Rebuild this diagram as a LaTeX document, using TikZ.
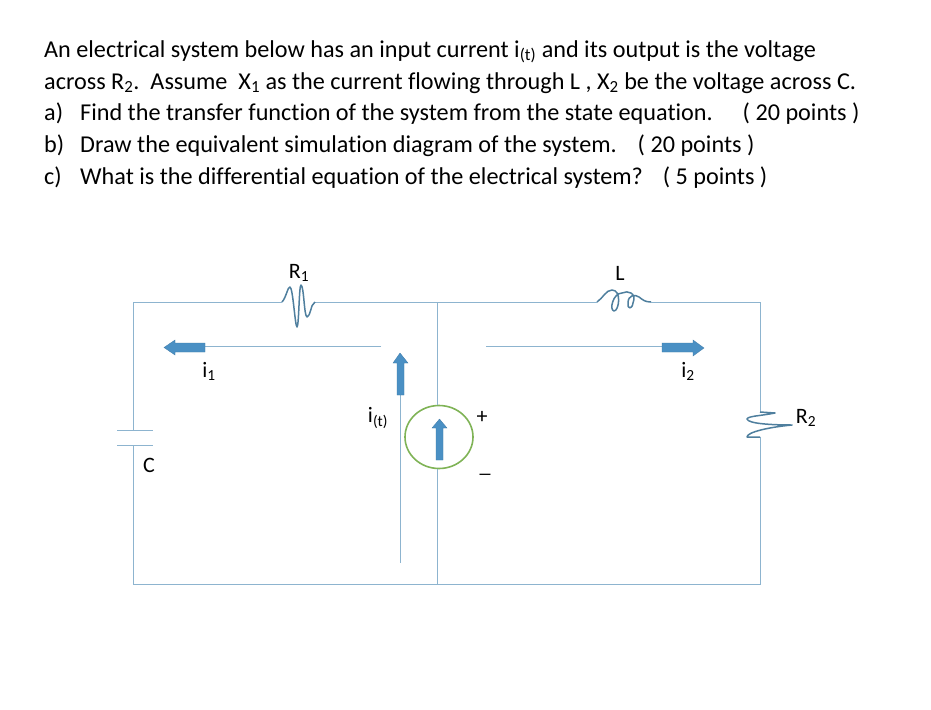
\documentclass[tikz,border=0pt]{standalone}
\usepackage{fontspec}
\setmainfont{Carlito}
\usetikzlibrary{shapes.geometric}
\definecolor{wire}{HTML}{8DB4CF}
\definecolor{blk}{HTML}{4A90C4}
\definecolor{sq}{HTML}{4F7F9E}
\definecolor{grn}{HTML}{7FB356}
\tikzset{
  wireline/.style={draw=wire,line width=1pt},
  squiggle/.style={draw=sq,line width=1.5pt,line join=round},
  bigarrow/.style={draw=blk!85!black,line width=0.3pt,fill=blk},
  body/.style={anchor=base west,inner sep=0pt,font=\fontsize{24.2pt}{28pt}\selectfont},
  lab/.style={inner sep=0pt,font=\fontsize{22pt}{26pt}\selectfont},
}
\newcommand{\lsub}[1]{\textsubscript{#1}}
\newcommand{\tag}[1]{\makebox[36pt][l]{#1}}
\newcommand{\nl}{\kern0pt }
\begin{document}
\begin{tikzpicture}[x=1pt,y=-1pt]
\useasboundingbox (0,0) rectangle (931,709);
\fill[white] (0,0) rectangle (931,709);
% text
\node[body] (t1) at (44,57) {An electrical system below has an input current i\lsub{(t)} and its output is the voltage};
\node[body] (t2) at (44,89) {across R\lsub{2}.\ \ Assume\ \ X\lsub{1} as the current f\nl lowing through L ,\ X\lsub{2} be the voltage across C.};
\node[body] (t3) at (44,120.500) {\tag{a)}Find the transfer funct\nl ion of the system from the state equat\nl ion.\hspace{30pt}( 20 points )};
\node[body] (t4) at (44,152.500) {\tag{b)}Draw the equivalent simulat\nl ion diagram of the system.\hspace{21pt}( 20 points )};
\node[body] (t5) at (44,184.500) {\tag{c)}What is the dif\nl ferent\nl ial equat\nl ion of the electrical system?\hspace{20pt}( 5 points )};
% corners and junctions
\coordinate (tl) at (133,302);
\coordinate (tr) at (760,302);
\coordinate (bl) at (133,584);
\coordinate (br) at (760,584);
\coordinate (tm) at (437,302);
\coordinate (bm) at (437,584);
\coordinate (r1a) at (282,302);
\coordinate (r1b) at (315,302);
\coordinate (la) at (597,302);
\coordinate (lb) at (651,302);
\coordinate (r2a) at (760,412);
\coordinate (r2b) at (760,437);
\coordinate (c1) at (133,430);
\coordinate (c2) at (133,445);
\node[draw=grn,line width=1.6pt,ellipse,minimum width=68pt,minimum height=63pt,inner sep=0pt] (src) at (439,437) {};
% wires
\draw[wireline] (r1a) -- (tl) -- (c1);
\draw[wireline] (c2) -- (bl) -- (br) -- (r2b);
\draw[wireline] (r2a) -- (tr) -- (lb);
\draw[wireline] (la) -- (r1b);
\draw[wireline] (tm) -- (tm |- src.north);
\draw[wireline] (bm |- src.south) -- (bm);
\draw[wireline] (117,430) -- (153,430);
\draw[wireline] (117,445) -- (153,445);
% current reference lines
\draw[wireline] (381,346) -- (205,346);
\draw[wireline] (486,346) -- (662,346);
\draw[wireline] (400,395) -- (400,563);
% components
\draw[squiggle] (r1a) .. controls (286,298) and (288,286) .. (290,287) .. controls (293,288) and (295,326) .. (297,327) .. controls (299,326) and (299,285) .. (301,285) .. controls (304,286) and (304,316) .. (307,317) .. controls (311,316) and (310,305) .. (r1b);
\draw[squiggle] (la) .. controls (603,298) and (606,290) .. (612,290) .. controls (622,290) and (619,311) .. (614,311) .. controls (609,310) and (613,293) .. (622,293) .. controls (628,290) and (637,293) .. (633,303) .. controls (632,310) and (627,309) .. (628,303) .. controls (628,295) and (635,294) .. (639,297) .. controls (643,300) and (645,302) .. (lb);
\draw[squiggle] (r2a) -- (775,413) .. controls (760,416) and (748,416) .. (747,419) .. controls (748,424) and (775,425) .. (792,425) .. controls (770,427) and (747,432) .. (747,437) -- (r2b);
% arrows
\fill[bigarrow] (205,343) -- (175,343) -- (175,340) -- (164,347.5) -- (175,355) -- (175,352) -- (205,352) -- cycle;
\fill[bigarrow] (662,343) -- (693,343) -- (693,340) -- (704,348) -- (693,356) -- (693,352) -- (662,352) -- cycle;
\fill[bigarrow] (397,395) -- (397,363) -- (393,363) -- (400,353) -- (408,363) -- (404,363) -- (404,395) -- cycle;
\fill[bigarrow] (436,460) -- (436,428) -- (432,428) -- (439.500,419) -- (447,428) -- (443,428) -- (443,460) -- cycle;
% labels
\node[lab] (lr1) at (299,273) {R\lsub{1}};
\node[lab] (ll) at (620,273) {L};
\node[lab] (li1) at (209,371) {i\lsub{1}};
\node[lab] (li2) at (688,371) {i\lsub{2}};
\node[lab] (lit) at (378,418) {i\lsub{(t)}};
\node[lab] (lplus) at (482,417) {+};
\node[lab] (lminus) at (485,474) {\_};
\node[lab] (lc) at (149,465) {C};
\node[lab] (lr2) at (806,418) {R\lsub{2}};
\end{tikzpicture}
\end{document}
